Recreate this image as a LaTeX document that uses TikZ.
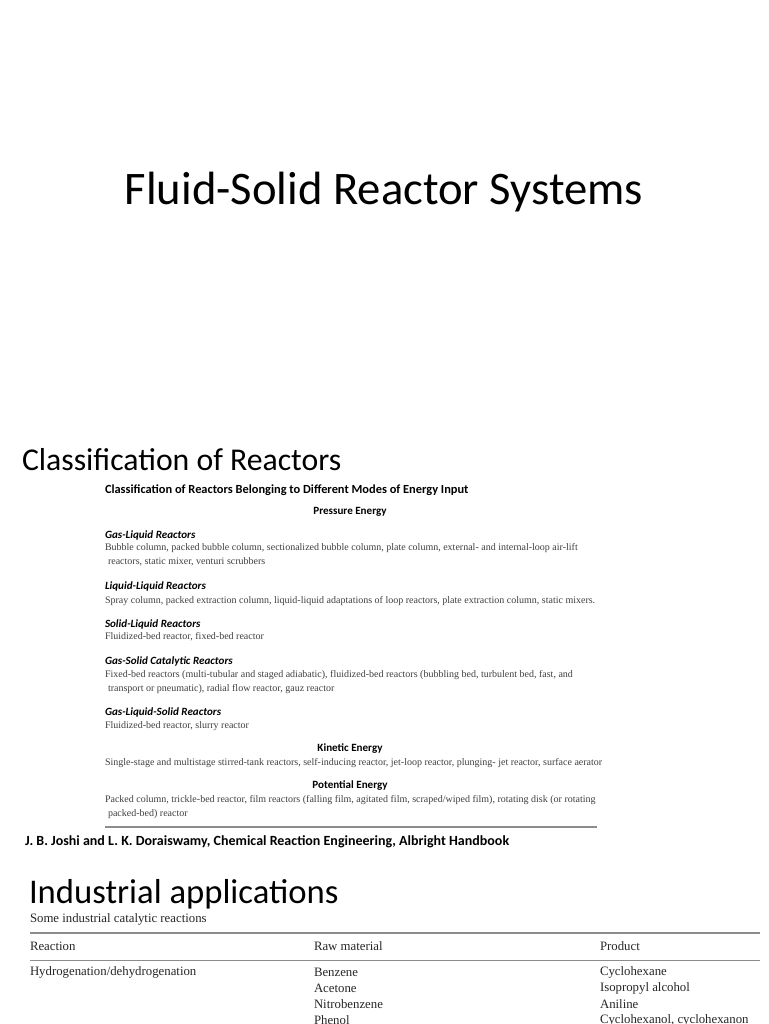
\documentclass[tikz,border=0pt]{standalone}
\usepackage{fontspec}
\setmainfont{Liberation Serif}
\newfontfamily\carlito{Carlito}
\begin{document}
\begin{tikzpicture}[x=0.75pt,y=-0.75pt,
  every node/.style={inner sep=0pt,outer sep=0pt,anchor=west},
  body/.style={font=\fontsize{7.5}{9}\selectfont,text=black!75},
  cat/.style={font=\carlito\bfseries\itshape\fontsize{8.3}{9}\selectfont},
  head/.style={font=\carlito\bfseries\fontsize{8.3}{9}\selectfont,anchor=center},
  tb/.style={font=\fontsize{9.6}{11}\selectfont,text=black!85},
  rule/.style={draw=black!45,line width=0.9pt}]
\useasboundingbox (0,0) rectangle (768,1024);
\fill[white] (0,0) rectangle (768,1024);
\node[font=\carlito\fontsize{35}{40}\selectfont,anchor=center] (title) at (384,192) {Fluid-Solid Reactor Systems};
\node[font=\carlito\fontsize{23.8}{28}\selectfont] (cls) at (22,460) {Classification of Reactors};
\node[font=\carlito\bfseries\fontsize{9.3}{11}\selectfont] (h) at (105,490) {Classification of Reactors Belonging to Different Modes of Energy Input};
\node[head] (pe) at (350,512) {Pressure Energy};
\node[cat] (c1) at (105,535) {Gas-Liquid Reactors};
\node[body] at (105,548) {Bubble column, packed bubble column, sectionalized bubble column, plate column, external- and internal-loop air-lift};
\node[body] at (108,562) {reactors, static mixer, venturi scrubbers};
\node[cat] (c2) at (105,586) {Liquid-Liquid Reactors};
\node[body] at (105,601) {Spray column, packed extraction column, liquid-liquid adaptations of loop reactors, plate extraction column, static mixers.};
\node[cat] (c3) at (105,624) {Solid-Liquid Reactors};
\node[body] at (105,637) {Fluidized-bed reactor, fixed-bed reactor};
\node[cat] (c4) at (105,661) {Gas-Solid Catalytic Reactors};
\node[body] at (105,675) {Fixed-bed reactors (multi-tubular and staged adiabatic), fluidized-bed reactors (bubbling bed, turbulent bed, fast, and};
\node[body] at (108,689) {transport or pneumatic), radial flow reactor, gauz reactor};
\node[cat] (c5) at (105,712) {Gas-Liquid-Solid Reactors};
\node[body] at (105,726) {Fluidized-bed reactor, slurry reactor};
\node[head] (ke) at (350,749) {Kinetic Energy};
\node[body] at (105,763) {Single-stage and multistage stirred-tank reactors, self-inducing reactor, jet-loop reactor, plunging- jet reactor, surface aerator};
\node[head] (po) at (350,786) {Potential Energy};
\node[body] at (105,800) {Packed column, trickle-bed reactor, film reactors (falling film, agitated film, scraped/wiped film), rotating disk (or rotating};
\node[body] at (108,814) {packed-bed) reactor};
\draw[rule] (105,827) -- (597,827);
\node[font=\carlito\bfseries\fontsize{10.5}{12}\selectfont] (cite) at (25,842) {J. B. Joshi and L. K. Doraiswamy, Chemical Reaction Engineering, Albright Handbook};
\node[font=\carlito\fontsize{26}{30}\selectfont] (ind) at (29,894) {Industrial applications};
\node[tb] at (30,919) {Some industrial catalytic reactions};
\draw[rule] (30,933) -- (760,933);
\node[tb] at (30,946) {Reaction};
\node[tb] at (314,946) {Raw material};
\node[tb] at (600,946) {Product};
\draw[rule,line width=0.6pt] (30,960) -- (760,960);
\node[tb] at (30,972) {Hydrogenation/dehydrogenation};
\node[tb] at (314,972) {Benzene};
\node[tb] at (314,988) {Acetone};
\node[tb] at (314,1004) {Nitrobenzene};
\node[tb] at (314,1020) {Phenol};
\node[tb] at (600,972) {Cyclohexane};
\node[tb] at (600,988) {Isopropyl alcohol};
\node[tb] at (600,1004) {Aniline};
\node[tb] at (600,1020) {Cyclohexanol, cyclohexanon};
\end{tikzpicture}
\end{document}
